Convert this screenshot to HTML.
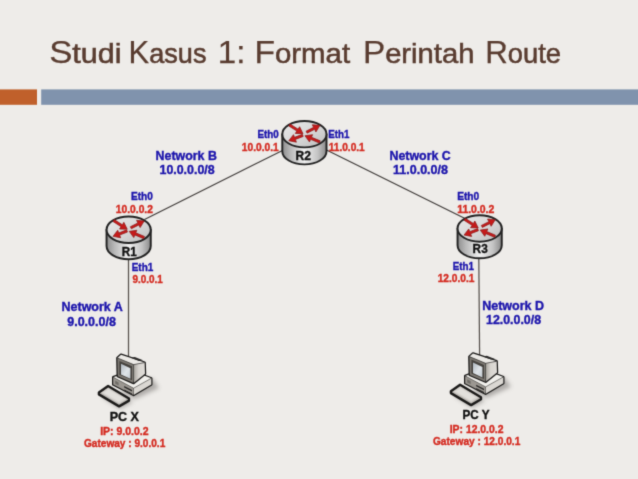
<!DOCTYPE html>
<html lang="id">
<head>
<meta charset="utf-8">
<title>Studi Kasus 1: Format Perintah Route</title>
<style>
html,body{margin:0;padding:0;}
body{width:638px;height:479px;overflow:hidden;background:#eeece9;font-family:"Liberation Sans",sans-serif;}
.slide{position:relative;width:638px;height:479px;background:#eeece9;overflow:hidden;}
h1{margin:0;font-weight:400;font-size:28px;color:#593c30;-webkit-text-stroke:0.55px #593c30;}
h1 b{font-weight:400;font-size:32px;-webkit-text-stroke:0.25px #593c30;}
h1 span,.t{position:absolute;left:0;white-space:nowrap;line-height:1;transform-origin:0 0;}
.t{font-weight:700;-webkit-text-stroke:0.38px currentColor;}
svg{position:absolute;left:0;top:0;}
.soft{filter:url(#soft);}

</style>
</head>
<body>
<div class="slide soft">
<h1>
<span id="h0" style="top:36.45px;transform:translateX(49.15px) scaleX(1.0879)"><b>S</b>tudi</span>
<span id="h1" style="top:36.45px;transform:translateX(128.60px) scaleX(0.9673)"><b>K</b>asus</span>
<span id="h2" style="top:36.45px;transform:translateX(217.81px) scaleX(1.0337)"><b>1:</b></span>
<span id="h3" style="top:36.45px;transform:translateX(254.41px) scaleX(1.0508)"><b>F</b>ormat</span>
<span id="h4" style="top:36.45px;transform:translateX(362.89px) scaleX(1.0424)"><b>P</b>erintah</span>
<span id="h5" style="top:36.45px;transform:translateX(485.21px) scaleX(0.9768)"><b>R</b>oute</span>
</h1>
<svg width="638" height="479" viewBox="0 0 638 479">
<defs>
<linearGradient id="rbody" x1="0" y1="0" x2="1" y2="0"><stop offset="0" stop-color="#8e8e8e"/><stop offset="0.18" stop-color="#b8b8b8"/><stop offset="0.5" stop-color="#f1f1f1"/><stop offset="0.8" stop-color="#c4c4c4"/><stop offset="1" stop-color="#8a8a8a"/></linearGradient>
<linearGradient id="rtop" x1="0" y1="0" x2="1" y2="1"><stop offset="0" stop-color="#e9e9e9"/><stop offset="0.55" stop-color="#d6d6d6"/><stop offset="1" stop-color="#bababa"/></linearGradient>
<linearGradient id="scr" x1="0" y1="0" x2="1" y2="1"><stop offset="0" stop-color="#aeb7bf"/><stop offset="0.55" stop-color="#dfe4e8"/><stop offset="1" stop-color="#c4ccd2"/></linearGradient>
<linearGradient id="mside" x1="0" y1="0" x2="1" y2="0"><stop offset="0" stop-color="#a8a49e"/><stop offset="0.45" stop-color="#d8d5d0"/><stop offset="1" stop-color="#e0ddd9"/></linearGradient>
<filter id="soft" x="0" y="0" width="100%" height="100%" color-interpolation-filters="sRGB"><feConvolveMatrix order="3" kernelMatrix="0.0194 0.0996 0.0194 0.0996 0.5240 0.0996 0.0194 0.0996 0.0194" edgeMode="duplicate" preserveAlpha="false"/></filter>
<filter id="shadow" x="-30%" y="-30%" width="160%" height="160%"><feGaussianBlur stdDeviation="2.2"/></filter>
</defs>
<rect x="0" y="89.4" width="37" height="15.4" fill="#c0602b"/><rect x="41.2" y="89.4" width="597" height="15.4" fill="#8093ad"/>
<g stroke="#3e3a38" stroke-width="1.15" fill="none">
<line x1="284" y1="149.7" x2="144.5" y2="219.4"/>
<line x1="325" y1="149.2" x2="465" y2="218.5"/>
<line x1="128.5" y1="258" x2="128.5" y2="356.5" stroke="#57524e" stroke-width="1.25"/>
<line x1="478.8" y1="257" x2="479.6" y2="355" stroke="#57524e" stroke-width="1.25"/>
</g>
<g transform="translate(304.4,134.15)"><path d="M-22.1,0 L-22.1,17.0 A22.1,13.2 0 0 0 22.1,17.0 L22.1,0 Z" fill="url(#rbody)" stroke="#222" stroke-width="1.95" stroke-linejoin="round"/><ellipse cx="0" cy="0" rx="22.1" ry="13.2" fill="url(#rtop)" stroke="#222" stroke-width="1.95"/><polygon points="-15.6,-8.2 -7.6,-3.1 -9.1,-0.7 -1.4,-0.5 -4.8,-7.4 -6.3,-5.0 -14.4,-10.2" fill="#c61a1a" stroke="#861616" stroke-width="0.7" stroke-linejoin="round"/><polygon points="2.7,-1.0 10.2,-4.8 11.5,-2.2 15.6,-8.8 7.9,-9.4 9.2,-6.8 1.7,-3.0" fill="#c61a1a" stroke="#861616" stroke-width="0.7" stroke-linejoin="round"/><polygon points="-2.0,0.1 -9.9,3.2 -10.9,0.5 -15.6,6.6 -8.0,8.0 -9.0,5.3 -1.2,2.3" fill="#c61a1a" stroke="#861616" stroke-width="0.7" stroke-linejoin="round"/><polygon points="15.8,6.7 7.1,3.1 8.2,0.5 0.6,1.6 5.1,7.8 6.2,5.2 15.0,8.9" fill="#c61a1a" stroke="#861616" stroke-width="0.7" stroke-linejoin="round"/></g>
<g transform="translate(128.65,229.75)"><path d="M-22.1,0 L-22.1,16.3 A22.1,13.2 0 0 0 22.1,16.3 L22.1,0 Z" fill="url(#rbody)" stroke="#222" stroke-width="1.95" stroke-linejoin="round"/><ellipse cx="0" cy="0" rx="22.1" ry="13.2" fill="url(#rtop)" stroke="#222" stroke-width="1.95"/><polygon points="-15.6,-8.2 -7.6,-3.1 -9.1,-0.7 -1.4,-0.5 -4.8,-7.4 -6.3,-5.0 -14.4,-10.2" fill="#c61a1a" stroke="#861616" stroke-width="0.7" stroke-linejoin="round"/><polygon points="2.7,-1.0 10.2,-4.8 11.5,-2.2 15.6,-8.8 7.9,-9.4 9.2,-6.8 1.7,-3.0" fill="#c61a1a" stroke="#861616" stroke-width="0.7" stroke-linejoin="round"/><polygon points="-2.0,0.1 -9.9,3.2 -10.9,0.5 -15.6,6.6 -8.0,8.0 -9.0,5.3 -1.2,2.3" fill="#c61a1a" stroke="#861616" stroke-width="0.7" stroke-linejoin="round"/><polygon points="15.8,6.7 7.1,3.1 8.2,0.5 0.6,1.6 5.1,7.8 6.2,5.2 15.0,8.9" fill="#c61a1a" stroke="#861616" stroke-width="0.7" stroke-linejoin="round"/></g>
<g transform="translate(479.65,228.45)"><path d="M-22.1,0 L-22.1,16.7 A22.1,13.2 0 0 0 22.1,16.7 L22.1,0 Z" fill="url(#rbody)" stroke="#222" stroke-width="1.95" stroke-linejoin="round"/><ellipse cx="0" cy="0" rx="22.1" ry="13.2" fill="url(#rtop)" stroke="#222" stroke-width="1.95"/><polygon points="-15.6,-8.2 -7.6,-3.1 -9.1,-0.7 -1.4,-0.5 -4.8,-7.4 -6.3,-5.0 -14.4,-10.2" fill="#c61a1a" stroke="#861616" stroke-width="0.7" stroke-linejoin="round"/><polygon points="2.7,-1.0 10.2,-4.8 11.5,-2.2 15.6,-8.8 7.9,-9.4 9.2,-6.8 1.7,-3.0" fill="#c61a1a" stroke="#861616" stroke-width="0.7" stroke-linejoin="round"/><polygon points="-2.0,0.1 -9.9,3.2 -10.9,0.5 -15.6,6.6 -8.0,8.0 -9.0,5.3 -1.2,2.3" fill="#c61a1a" stroke="#861616" stroke-width="0.7" stroke-linejoin="round"/><polygon points="15.8,6.7 7.1,3.1 8.2,0.5 0.6,1.6 5.1,7.8 6.2,5.2 15.0,8.9" fill="#c61a1a" stroke="#861616" stroke-width="0.7" stroke-linejoin="round"/></g>
<g transform="translate(0,0)"><g filter="url(#shadow)" opacity="0.5"><polygon points="120,392 135,399 159,388 152,378" fill="#6e6b68"/><polygon points="102,397 120,409 133,402 112,390" fill="#6e6b68"/></g><polygon points="113.2,377.2 131,370.5 151.3,378.3 151.3,384.5 133.6,395 113.2,384.5" fill="#d9d6d1" stroke="#1b1a19" stroke-width="2.4" stroke-linejoin="round"/><polygon points="113.2,377.2 131,370.5 151.3,378.3 133.6,388.2" fill="#f1f0ec"/><polygon points="113.2,377.2 133.6,388.2 133.6,395 113.2,384.5" fill="#9b9791"/><polygon points="133.6,388.2 151.3,378.3 151.3,384.5 133.6,395" fill="#dbd8d3"/><polyline points="113.2,377.2 133.6,388.2 151.3,378.3" fill="none" stroke="#1b1a19" stroke-width="0.7" opacity="0.7"/><line x1="133.6" y1="388.2" x2="133.6" y2="395" stroke="#1b1a19" stroke-width="0.7" opacity="0.7"/><polygon points="124.2,386 132,390 132,391.6 124.2,387.6" fill="#262524"/><polygon points="124.2,389.4 132,393.4 132,394.6 124.2,390.6" fill="#262524"/><polygon points="115.2,380.6 118.6,382.4 118.6,385.6 115.2,383.8" fill="#6f6c67"/><polygon points="117.4,357.9 121,354.8 144.6,362.6 145,373.8 133.6,383 117.8,376.2" fill="#d6d3ce" stroke="#1b1a19" stroke-width="2.5" stroke-linejoin="round"/><polygon points="117.4,357.9 121,354.8 144.6,362.6 133.6,364.6" fill="#eceae6"/><polygon points="133.6,364.6 144.6,362.6 145,373.8 133.6,383" fill="url(#mside)"/><polygon points="117.4,357.9 133.6,364.6 133.6,383 117.8,376.2" fill="#7d7973"/><polygon points="130.8,357.7 139,360.9 143,360.2 134.8,357" fill="#2c2b2a"/><polygon points="119.4,360.9 132,366.2 132,380.2 119.4,374.8" fill="#45423e"/><polygon points="121,363.7 130.4,368.2 130.4,378.8 121,374.4" fill="url(#scr)"/><polyline points="117.4,357.9 133.6,364.6 144.6,362.6" fill="none" stroke="#1b1a19" stroke-width="0.8" opacity="0.75"/><line x1="133.6" y1="364.6" x2="133.6" y2="383" stroke="#1b1a19" stroke-width="0.8" opacity="0.75"/><polygon points="98.9,392.6 108.1,386 129,398.5 129,400.6 119.1,406.4 98.9,394.4" fill="#bdbab5" stroke="#1b1a19" stroke-width="2.4" stroke-linejoin="round"/><polygon points="101.2,392.7 108.2,388 126.4,398.9 119.2,403.4" fill="#d8d5d1"/><polygon points="104,392.8 108.6,389.7 123.4,398.6 118.8,401.6" fill="#e2e0dc"/></g>
<g transform="translate(352,-1.3)"><g filter="url(#shadow)" opacity="0.5"><polygon points="120,392 135,399 159,388 152,378" fill="#6e6b68"/><polygon points="102,397 120,409 133,402 112,390" fill="#6e6b68"/></g><polygon points="113.2,377.2 131,370.5 151.3,378.3 151.3,384.5 133.6,395 113.2,384.5" fill="#d9d6d1" stroke="#1b1a19" stroke-width="2.4" stroke-linejoin="round"/><polygon points="113.2,377.2 131,370.5 151.3,378.3 133.6,388.2" fill="#f1f0ec"/><polygon points="113.2,377.2 133.6,388.2 133.6,395 113.2,384.5" fill="#9b9791"/><polygon points="133.6,388.2 151.3,378.3 151.3,384.5 133.6,395" fill="#dbd8d3"/><polyline points="113.2,377.2 133.6,388.2 151.3,378.3" fill="none" stroke="#1b1a19" stroke-width="0.7" opacity="0.7"/><line x1="133.6" y1="388.2" x2="133.6" y2="395" stroke="#1b1a19" stroke-width="0.7" opacity="0.7"/><polygon points="124.2,386 132,390 132,391.6 124.2,387.6" fill="#262524"/><polygon points="124.2,389.4 132,393.4 132,394.6 124.2,390.6" fill="#262524"/><polygon points="115.2,380.6 118.6,382.4 118.6,385.6 115.2,383.8" fill="#6f6c67"/><polygon points="117.4,357.9 121,354.8 144.6,362.6 145,373.8 133.6,383 117.8,376.2" fill="#d6d3ce" stroke="#1b1a19" stroke-width="2.5" stroke-linejoin="round"/><polygon points="117.4,357.9 121,354.8 144.6,362.6 133.6,364.6" fill="#eceae6"/><polygon points="133.6,364.6 144.6,362.6 145,373.8 133.6,383" fill="url(#mside)"/><polygon points="117.4,357.9 133.6,364.6 133.6,383 117.8,376.2" fill="#7d7973"/><polygon points="130.8,357.7 139,360.9 143,360.2 134.8,357" fill="#2c2b2a"/><polygon points="119.4,360.9 132,366.2 132,380.2 119.4,374.8" fill="#45423e"/><polygon points="121,363.7 130.4,368.2 130.4,378.8 121,374.4" fill="url(#scr)"/><polyline points="117.4,357.9 133.6,364.6 144.6,362.6" fill="none" stroke="#1b1a19" stroke-width="0.8" opacity="0.75"/><line x1="133.6" y1="364.6" x2="133.6" y2="383" stroke="#1b1a19" stroke-width="0.8" opacity="0.75"/><polygon points="98.9,392.6 108.1,386 129,398.5 129,400.6 119.1,406.4 98.9,394.4" fill="#bdbab5" stroke="#1b1a19" stroke-width="2.4" stroke-linejoin="round"/><polygon points="101.2,392.7 108.2,388 126.4,398.9 119.2,403.4" fill="#d8d5d1"/><polygon points="104,392.8 108.6,389.7 123.4,398.6 118.8,401.6" fill="#e2e0dc"/></g>
</svg>
<div class="labels">
<div class="t" id="l0" style="top:128.70px;font-size:10.5px;color:#1c15ac;transform:translateX(257.55px) scaleX(0.9349)">Eth0</div>
<div class="t" id="l1" style="top:141.50px;font-size:10.5px;color:#d42a20;transform:translateX(241.85px) scaleX(0.9704)">10.0.0.1</div>
<div class="t" id="l2" style="top:128.80px;font-size:10.5px;color:#1c15ac;transform:translateX(328.35px) scaleX(0.9269)">Eth1</div>
<div class="t" id="l3" style="top:141.50px;font-size:10.5px;color:#d42a20;transform:translateX(328.66px) scaleX(0.9657)">11.0.0.1</div>
<div class="t" id="l4" style="top:150.29px;font-size:12.5px;color:#1c15ac;transform:translateX(155.61px) scaleX(0.9913)">Network B</div>
<div class="t" id="l5" style="top:163.99px;font-size:12.5px;color:#1c15ac;transform:translateX(159.50px) scaleX(0.9912)">10.0.0.0/8</div>
<div class="t" id="l6" style="top:150.19px;font-size:12.5px;color:#1c15ac;transform:translateX(389.50px) scaleX(0.9914)">Network C</div>
<div class="t" id="l7" style="top:163.79px;font-size:12.5px;color:#1c15ac;transform:translateX(393.10px) scaleX(0.9987)">11.0.0.0/8</div>
<div class="t" id="l8" style="top:190.60px;font-size:10.5px;color:#1c15ac;transform:translateX(131.04px) scaleX(0.9576)">Eth0</div>
<div class="t" id="l9" style="top:204.20px;font-size:10.5px;color:#d42a20;transform:translateX(115.85px) scaleX(0.9769)">10.0.0.2</div>
<div class="t" id="l10" style="top:245.59px;font-size:12.5px;color:#111;transform:translateX(121.85px) scaleX(0.9328)">R1</div>
<div class="t" id="l11" style="top:262.40px;font-size:10.5px;color:#1c15ac;transform:translateX(131.72px) scaleX(0.9482)">Eth1</div>
<div class="t" id="l12" style="top:274.40px;font-size:10.5px;color:#d42a20;transform:translateX(132.42px) scaleX(0.9452)">9.0.0.1</div>
<div class="t" id="l13" style="top:301.09px;font-size:12.5px;color:#1c15ac;transform:translateX(61.49px) scaleX(0.9997)">Network A</div>
<div class="t" id="l14" style="top:315.59px;font-size:12.5px;color:#1c15ac;transform:translateX(67.25px) scaleX(0.9998)">9.0.0.0/8</div>
<div class="t" id="l15" style="top:410.89px;font-size:12.5px;color:#111;transform:translateX(109.64px) scaleX(1.0020)">PC X</div>
<div class="t" id="l16" style="top:426.30px;font-size:10.5px;color:#d42a20;transform:translateX(100.20px) scaleX(0.9993)">IP: 9.0.0.2</div>
<div class="t" id="l17" style="top:437.50px;font-size:10.5px;color:#d42a20;transform:translateX(83.96px) scaleX(0.9608)">Gateway : 9.0.0.1</div>
<div class="t" id="l18" style="top:150.39px;font-size:12.5px;color:#111;transform:translateX(295.61px) scaleX(0.9609)">R2</div>
<div class="t" id="l19" style="top:190.60px;font-size:10.5px;color:#1c15ac;transform:translateX(457.16px) scaleX(0.9689)">Eth0</div>
<div class="t" id="l20" style="top:204.40px;font-size:10.5px;color:#d42a20;transform:translateX(457.15px) scaleX(0.9947)">11.0.0.2</div>
<div class="t" id="l21" style="top:242.89px;font-size:12.5px;color:#111;transform:translateX(472.61px) scaleX(0.9441)">R3</div>
<div class="t" id="l22" style="top:260.50px;font-size:10.5px;color:#1c15ac;transform:translateX(452.68px) scaleX(0.9349)">Eth1</div>
<div class="t" id="l23" style="top:273.30px;font-size:10.5px;color:#d42a20;transform:translateX(437.71px) scaleX(0.9701)">12.0.0.1</div>
<div class="t" id="l24" style="top:299.79px;font-size:12.5px;color:#1c15ac;transform:translateX(482.15px) scaleX(1.0000)">Network D</div>
<div class="t" id="l25" style="top:314.09px;font-size:12.5px;color:#1c15ac;transform:translateX(486.00px) scaleX(0.9893)">12.0.0.0/8</div>
<div class="t" id="l26" style="top:409.09px;font-size:12.5px;color:#111;transform:translateX(462.42px) scaleX(0.9335)">PC Y</div>
<div class="t" id="l27" style="top:423.50px;font-size:10.5px;color:#d42a20;transform:translateX(449.71px) scaleX(0.9901)">IP: 12.0.0.2</div>
<div class="t" id="l28" style="top:435.70px;font-size:10.5px;color:#d42a20;transform:translateX(432.96px) scaleX(0.9655)">Gateway : 12.0.0.1</div>
</div>
</div>
</body>
</html>
